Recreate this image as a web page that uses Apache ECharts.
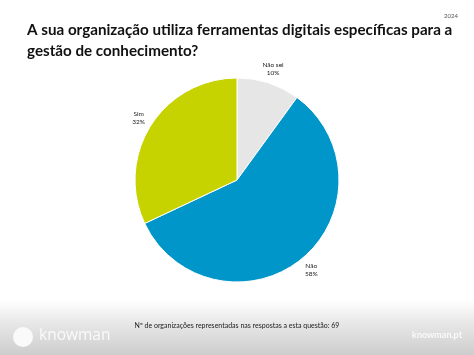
<!DOCTYPE html>
<html><head><meta charset="utf-8">
<style>html,body{margin:0;padding:0;background:#fff}#c{width:474px;height:355px}</style>
<script src="https://cdn.jsdelivr.net/npm/echarts@6/dist/echarts.min.js"></script>
</head><body><div id="c"></div>
<script>
const categories = ['Não sei', 'Não', 'Sim'];
const values = [10, 58, 32];
const colors = ['#e6e6e6', '#0096c9', '#c6d300'];
const titleText = 'A sua organização utiliza ferramentas digitais específicas para a\ngestão de conhecimento?';
const yearText = '2024';
const footnote = 'Nº de organizações representadas nas respostas a esta questão: 69';

const chart = echarts.init(document.getElementById('c'), null, {renderer: 'canvas'});
const data = categories.map((c, i) => ({name: c, value: values[i], itemStyle: {color: colors[i]}}));
const labelData = categories.map((c, i) => ({name: c, value: values[i]}));
const FONT = 'Lato, "Open Sans", sans-serif';
chart.setOption({
  animation: false,
  backgroundColor: '#fff',
  title: [{
    text: titleText, left: 22, top: 15,
    textStyle: {fontFamily: FONT, fontWeight: 'bold', fontSize: 15.2, color: '#111', lineHeight: 21}
  }, {
    text: yearText, right: 11, top: 8,
    textStyle: {fontFamily: FONT, fontWeight: 'normal', fontSize: 6, color: '#555'}
  }],
  graphic: [
    {type: 'rect', left: 0, top: 300, shape: {width: 474, height: 55}, silent: true,
     style: {fill: new echarts.graphic.LinearGradient(0, 0, 0, 1, [{offset: 0, color: '#ffffff'}, {offset: 0.45, color: '#e6e6e6'}, {offset: 1, color: '#cdcdcd'}])}},
    {type: 'text', left: 'center', top: 322, style: {text: footnote, font: '7px ' + FONT, fill: '#222'}},
    {type: 'circle', shape: {cx: 23, cy: 337, r: 10}, style: {fill: '#fafafa'}},
    {type: 'text', left: 39, top: 328, style: {text: 'knowman', font: '15.5px "Open Sans", sans-serif', fill: '#fafafa'}},
    {type: 'text', right: 12, top: 331, style: {text: 'knowman.pt', font: 'bold 9px ' + FONT, fill: '#fafafa'}}
  ],
  series: [{
    type: 'pie', center: [237, 180], radius: [0, 102], startAngle: 90, clockwise: true,
    silent: true, label: {show: false}, labelLine: {show: false},
    itemStyle: {borderColor: '#fff', borderWidth: 1},
    data: data
  }, {
    type: 'pie', center: [237, 180], radius: [107, 120], startAngle: 90, clockwise: true,
    silent: true, labelLine: {show: false},
    itemStyle: {color: 'rgba(0,0,0,0)'},
    label: {show: true, position: 'inside', formatter: '{b}\n{d}%', fontFamily: FONT, fontSize: 6.5, color: '#222', lineHeight: 8},
    data: labelData
  }]
});
</script></body></html>
